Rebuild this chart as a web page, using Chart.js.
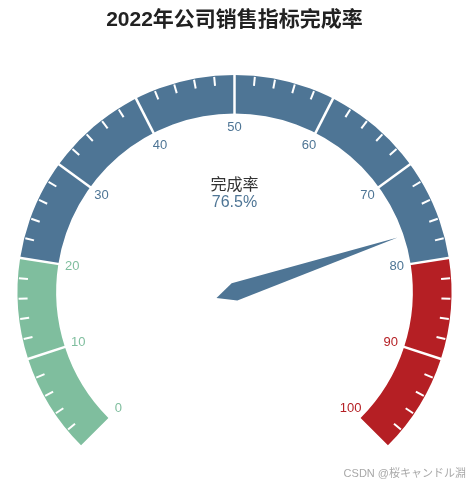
<!DOCTYPE html>
<html>
<head>
<meta charset="utf-8">
<title>2022年公司销售指标完成率</title>
<script src="https://cdn.jsdelivr.net/npm/chart.js@4/dist/chart.umd.min.js"></script>
<style>
    html, body { margin: 0; padding: 0; background: #fff; }
    #wrap { width: 474px; height: 484px; position: relative; }
</style>
</head>
<body>
<div id="wrap"><canvas id="gauge"></canvas></div>
<script>
// gauge data
const bandNames = ['低', '中', '高'];
const bandSizes = [20, 60, 20];          // 0-20, 20-80, 80-100
const bandColors = ['#7fbe9e', '#4e7595', '#b51f24'];
const gaugeMin = 0;
const gaugeMax = 100;
const majorTicks = [0, 10, 20, 30, 40, 50, 60, 70, 80, 90, 100];
const tickLabels = ['0', '10', '20', '30', '40', '50', '60', '70', '80', '90', '100'];
const minorSplit = 5;
const completion = 76.5;
const detailName = '完成率';

const FONT = '"Liberation Sans", "Noto Sans CJK SC", sans-serif';

function colorFor(v) {
    let acc = gaugeMin;
    for (let i = 0; i < bandSizes.length; i++) {
        acc += bandSizes[i];
        if (v <= acc) return bandColors[i];
    }
    return bandColors[bandColors.length - 1];
}

// angle of a value, taken from the drawn arcs
function angleOf(meta, v) {
    const first = meta.data[0];
    const last = meta.data[meta.data.length - 1];
    const a0 = first.startAngle, a1 = last.endAngle;
    return a0 + (a1 - a0) * (v - gaugeMin) / (gaugeMax - gaugeMin);
}

const gaugePlugin = {
    id: 'gaugeExtras',
    afterDatasetsDraw(chart) {
        const ctx = chart.ctx;
        const meta = chart.getDatasetMeta(0);
        const arc = meta.data[0];
        const cx = arc.x, cy = arc.y;
        const R = arc.outerRadius, r = arc.innerRadius;

        ctx.save();
        // minor ticks
        ctx.strokeStyle = '#fff';
        ctx.lineWidth = 2;
        for (let i = 0; i < majorTicks.length - 1; i++) {
            const step = (majorTicks[i + 1] - majorTicks[i]) / minorSplit;
            for (let k = 1; k < minorSplit; k++) {
                const a = angleOf(meta, majorTicks[i] + k * step);
                ctx.beginPath();
                ctx.moveTo(cx + Math.cos(a) * (R - 1), cy + Math.sin(a) * (R - 1));
                ctx.lineTo(cx + Math.cos(a) * (R - 10), cy + Math.sin(a) * (R - 10));
                ctx.stroke();
            }
        }
        // split lines
        ctx.lineWidth = 2.5;
        majorTicks.forEach(v => {
            if (v === gaugeMin || v === gaugeMax) return;
            const a = angleOf(meta, v);
            ctx.beginPath();
            ctx.moveTo(cx + Math.cos(a) * (R + 1), cy + Math.sin(a) * (R + 1));
            ctx.lineTo(cx + Math.cos(a) * (r - 1), cy + Math.sin(a) * (r - 1));
            ctx.stroke();
        });

        // tick labels
        ctx.font = '13px ' + FONT;
        ctx.textAlign = 'center';
        ctx.textBaseline = 'middle';
        majorTicks.forEach((v, i) => {
            const a = angleOf(meta, v);
            const lr = r - 14;
            ctx.fillStyle = colorFor(v);
            ctx.fillText(tickLabels[i], cx + Math.cos(a) * lr, cy + Math.sin(a) * lr);
        });

        // needle
        const a = angleOf(meta, completion);
        const ux = Math.cos(a), uy = Math.sin(a);
        const px = -uy, py = ux;
        const tip = R - 45, tail = 19, half = 9;
        ctx.fillStyle = colorFor(completion);
        ctx.beginPath();
        ctx.moveTo(cx + ux * tip, cy + uy * tip);
        ctx.lineTo(cx + px * half, cy + py * half);
        ctx.lineTo(cx - ux * tail, cy - uy * tail);
        ctx.lineTo(cx - px * half, cy - py * half);
        ctx.closePath();
        ctx.fill();

        // detail text
        ctx.fillStyle = '#333';
        ctx.font = '16px ' + FONT;
        ctx.fillText(detailName, cx, cy - 106);
        ctx.fillStyle = colorFor(completion);
        ctx.fillText(completion + '%', cx, cy - 89);

        // watermark
        ctx.fillStyle = '#a8a8a8';
        ctx.font = '11px ' + FONT;
        ctx.textAlign = 'right';
        ctx.fillText('CSDN @桜キャンドル淵', 466, 474);
        ctx.restore();
    }
};

new Chart(document.getElementById('gauge'), {
    type: 'doughnut',
    data: {
        labels: bandNames,
        datasets: [{
            data: bandSizes,
            backgroundColor: bandColors,
            borderWidth: 0,
            hoverOffset: 0
        }]
    },
    options: {
        responsive: true,
        maintainAspectRatio: false,
        animation: false,
        rotation: -135,
        circumference: 270,
        radius: 217,
        cutout: 184,
        layout: { padding: { left: 0, right: 5, top: 0, bottom: 0 } },
        events: [],
        plugins: {
            legend: { display: false },
            tooltip: { enabled: false },
            title: {
                display: true,
                text: '2022年公司销售指标完成率',
                color: '#222',
                font: { family: FONT, size: 21, weight: 'bold', lineHeight: 1.2 },
                padding: { top: 8, bottom: 3 }
            }
        }
    },
    plugins: [gaugePlugin]
});
</script>
</body>
</html>
